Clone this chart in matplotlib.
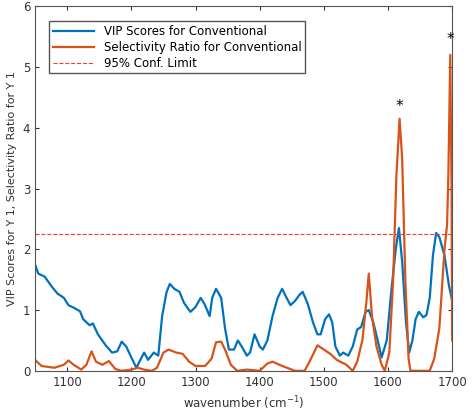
import matplotlib
matplotlib.use("Agg")
import matplotlib.pyplot as plt

vip_x = [1050, 1055, 1065, 1075, 1085, 1095, 1102, 1110, 1120, 1125, 1135, 1140, 1148, 1160, 1170, 1178,
         1185, 1192, 1200, 1208, 1215, 1220, 1226, 1235, 1242, 1248, 1255, 1260, 1267, 1275, 1282, 1292,
         1300, 1308, 1314, 1322, 1326, 1332, 1340, 1346, 1352, 1360, 1366, 1372, 1380, 1385, 1392, 1400,
         1405, 1412, 1420, 1428, 1435, 1442, 1448, 1455, 1462, 1467, 1475, 1483, 1490, 1495, 1502, 1508,
         1513, 1518, 1525, 1530, 1538, 1545, 1552, 1558, 1565, 1570, 1577, 1585, 1590, 1598, 1605, 1612,
         1617, 1622, 1628, 1633, 1638, 1643, 1648, 1655, 1660, 1665, 1670, 1675, 1680, 1688, 1695, 1700]
vip_y = [1.75, 1.6, 1.55, 1.4, 1.27, 1.2, 1.08, 1.04, 0.98, 0.85, 0.75, 0.78, 0.6, 0.42, 0.3, 0.32,
         0.48, 0.4, 0.22, 0.05, 0.2, 0.3, 0.18, 0.3, 0.25, 0.9, 1.3, 1.43, 1.35, 1.3, 1.12, 0.97,
         1.05, 1.2, 1.1, 0.9, 1.2, 1.35, 1.2, 0.7, 0.35, 0.35, 0.5, 0.4, 0.25, 0.3, 0.6, 0.4,
         0.35, 0.5, 0.9, 1.2, 1.35, 1.2, 1.08, 1.15, 1.25, 1.3, 1.1, 0.8, 0.6, 0.6, 0.85, 0.93,
         0.8, 0.4, 0.25, 0.3, 0.25, 0.4, 0.68, 0.72, 0.97, 1.0, 0.8, 0.45, 0.22, 0.5, 1.3, 2.0,
         2.35, 1.8, 0.8, 0.3, 0.5, 0.85, 0.97, 0.88, 0.92, 1.2, 1.9, 2.27, 2.2, 1.9, 1.4, 1.15]

sr_x = [1050, 1060, 1080, 1095, 1102, 1110, 1122, 1130, 1138, 1145, 1155, 1165, 1175, 1185, 1200, 1210,
        1220, 1232, 1240, 1250, 1258, 1270, 1280, 1290, 1300, 1315, 1325, 1332, 1340, 1346, 1355, 1365,
        1380, 1400, 1412, 1420, 1435, 1455, 1470, 1480, 1490, 1500, 1510, 1520, 1535, 1545, 1552, 1560,
        1566, 1570, 1575, 1582, 1590, 1595, 1602, 1608, 1613, 1618, 1622, 1627, 1632, 1635, 1665, 1672,
        1680, 1688, 1692, 1694, 1697, 1699, 1700]
sr_y = [0.18, 0.08, 0.05, 0.1, 0.17, 0.1, 0.02, 0.1, 0.32, 0.15, 0.1, 0.16, 0.03, 0.0, 0.02, 0.05,
        0.02, 0.0, 0.05, 0.3, 0.35, 0.3, 0.28, 0.15, 0.08, 0.08, 0.2, 0.47, 0.48, 0.35, 0.1, 0.0,
        0.02, 0.0, 0.12, 0.15, 0.08, 0.0, 0.0, 0.2, 0.42, 0.35, 0.28, 0.18, 0.1, 0.0, 0.15, 0.5,
        1.1, 1.6, 0.9, 0.4, 0.1, 0.0, 0.3, 1.5, 3.2, 4.15, 3.5, 1.5, 0.2, 0.0, 0.0, 0.2,
        0.7, 2.0, 2.4, 3.2, 5.2, 3.0, 0.5]

conf_limit = 2.25
stars = [(1618, 4.35), (1697, 5.45)]

fig = plt.figure(figsize=(4.74, 4.19), dpi=100)
ax = fig.add_axes([0.074, 0.115, 0.88, 0.87])
ax.plot(vip_x, vip_y, color="#0072BD", lw=1.6, label="VIP Scores for Conventional")
ax.plot(sr_x, sr_y, color="#D95319", lw=1.6, label="Selectivity Ratio for Conventional")
ax.axhline(conf_limit, color="#F03C3C", ls="--", lw=0.8, label="95% Conf. Limit")
for x, y in stars:
    ax.text(x, y, "*", ha="center", va="center", fontsize=11)
ax.set_xlim(1050, 1700)
ax.set_ylim(0, 6)
ax.set_xticks(range(1100, 1701, 100))
ax.tick_params(direction="in", labelsize=8.5, colors="#333333", top=True, right=True, length=3)
ax.set_xlabel("wavenumber (cm$^{-1}$)", fontsize=8.5, color="#333333")
ax.set_ylabel("VIP Scores for Y 1, Selectivity Ratio for Y 1", fontsize=8, color="#333333")
for s in ax.spines.values():
    s.set_color("#555555")
ax.legend(loc="upper left", bbox_to_anchor=(0.02, 0.975), fontsize=8.5, fancybox=False,
          edgecolor="#555555", borderpad=0.3, labelspacing=0.25, handlelength=3.5, framealpha=1)
fig.savefig("out.png", dpi=100)
